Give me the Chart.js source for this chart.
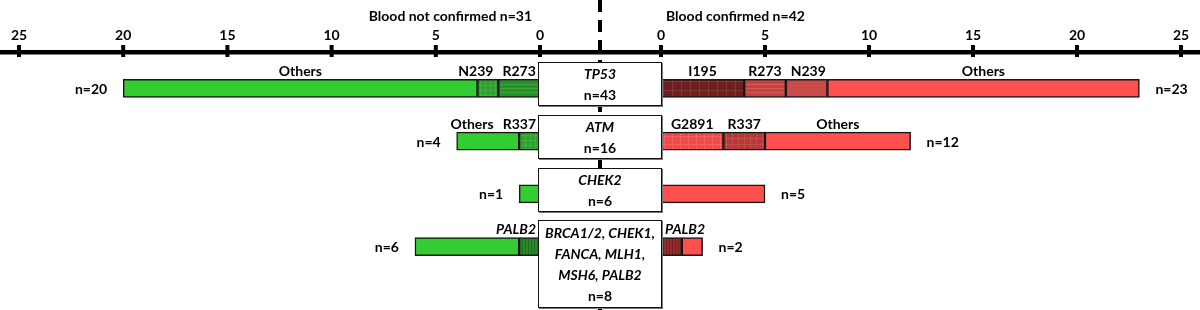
<!DOCTYPE html>
<html>
<head>
<meta charset="utf-8">
<script src="https://cdn.jsdelivr.net/npm/chart.js@4.4.1/dist/chart.umd.min.js"></script>
<style>
  html, body { margin: 0; padding: 0; background: #fff; }
  #wrap { position: relative; width: 1200px; height: 310px; overflow: hidden; font-family: Lato, sans-serif; }
  #wrap canvas { position: absolute; top: 0; }
  #leftChart { left: 0; }
  #rightChart { left: 600px; }
  #midline {
    position: absolute; left: 598px; top: 0; width: 4px; height: 310px;
    background: repeating-linear-gradient(to bottom, #000 0 12px, transparent 12px 20px);
  }
  .genebox {
    position: absolute; left: 538px; width: 124px; box-sizing: border-box;
    border: 1.5px solid #111; background: #fff; box-shadow: 1px 1px 0 #777;
    display: flex; flex-direction: column; justify-content: center; align-items: center;
    text-align: center; font-weight: 700; font-size: 14px; line-height: 21px; color: #000;
  }
</style>
</head>
<body>
<div id="wrap">
  <canvas id="leftChart" width="600" height="310"></canvas>
  <canvas id="rightChart" width="600" height="310"></canvas>
  <div id="midline"></div>
</div>
<script>
// rows, top to bottom
const rowGenes = ['TP53', 'ATM', 'CHEK2', 'BRCA1/2, CHEK1,\nFANCA, MLH1,\nMSH6, PALB2'];
const sideTitles = ['Blood not confirmed', 'Blood confirmed'];

// segments from 0 outwards ('' = no label)
const notConfirmedNames = [['R273', 'N239', 'Others'], ['R337', 'Others'], [''], ['PALB2', '']];
const notConfirmedCounts = [[2, 1, 17], [1, 3], [1], [1, 5]];
const confirmedNames = [['I195', 'R273', 'N239', 'Others'], ['G2891', 'R337', 'Others'], [''], ['PALB2', '']];
const confirmedCounts = [[4, 2, 2, 15], [3, 2, 7], [5], [1, 1]];

const axisTicks = [0, 5, 10, 15, 20, 25];

const italicLabels = ['PALB2'];
const FONT = 'bold 14px Lato';

function pattern(bg, fg, kind, size) {
  size = size || 6;
  const c = document.createElement('canvas');
  c.width = size; c.height = size;
  const g = c.getContext('2d');
  g.fillStyle = bg; g.fillRect(0, 0, size, size);
  g.fillStyle = fg;
  if (kind === 'h') g.fillRect(0, 0, size, 1);
  else if (kind === 'v') g.fillRect(0, 0, 1, size);
  else if (kind === 'grid') { g.fillRect(0, 0, size, 1); g.fillRect(0, 0, 1, size); }
  else if (kind === 'dots') { g.fillRect(0, 0, 1, 1); g.fillRect(size / 2, size / 2, 1, 1); }
  return g.createPattern(c, 'repeat');
}

// palette for the mutation segments, keyed by name
const greens = {
  base: '#33cc33',
  R273: pattern('#2b8f2b', '#3aa83a', 'h', 4),
  N239: pattern('#2f9f2f', '#3cb43c', 'grid', 5),
  R337: pattern('#2f9f2f', '#3cb43c', 'grid', 5),
  PALB2: pattern('#2a8a2a', '#1e6a1e', 'v', 3)
};
const reds = {
  base: '#ff5050',
  I195: pattern('#6c1f1f', '#8c3434', 'grid', 9),
  R273: pattern('#c44242', '#d65a5a', 'h', 4),
  N239: pattern('#c94747', '#dd6060', 'dots', 4),
  G2891: pattern('#f04b4b', '#f95f5f', 'grid', 8),
  R337: pattern('#b33838', '#c64c4c', 'grid', 6),
  PALB2: pattern('#962d2d', '#742020', 'v', 3)
};

const sum = arr => arr.reduce((a, b) => a + b, 0);

function buildDatasets(names, counts, palette) {
  const depth = Math.max(...counts.map(r => r.length));
  const sets = [];
  for (let k = 0; k < depth; k++) {
    sets.push({
      data: counts.map(r => (r[k] === undefined ? null : r[k])),
      names: names.map(r => r[k] || ''),
      backgroundColor: names.map(r => palette[r[k]] || palette.base),
      borderColor: '#151515',
      borderWidth: 1.5,
      borderSkipped: false,
      barThickness: 18
    });
  }
  return sets;
}

// axis, titles, segment labels and totals
const sideDecor = {
  id: 'sideDecor',
  afterDraw(chart, args, opts) {
    const { ctx, chartArea, scales: { x, y } } = chart;
    const side = opts.side;
    const zero = x.getPixelForValue(0);
    const axisY = chartArea.top - 10;
    ctx.save();
    ctx.fillStyle = '#000';
    ctx.fillRect(0, axisY - 2, chart.width, 4.5);
    x.ticks.forEach(t => {
      ctx.fillRect(x.getPixelForValue(t.value) - 2, axisY - 7, 4, 12);
    });
    ctx.font = FONT;
    ctx.textBaseline = 'middle';
    ctx.textAlign = 'center';
    x.ticks.forEach(t => ctx.fillText(String(t.value), x.getPixelForValue(t.value), axisY - 17));

    // side title
    const ds = chart.data.datasets;
    const grand = sum(ds.map(d => sum(d.data.map(v => v || 0))));
    ctx.textAlign = side < 0 ? 'right' : 'left';
    ctx.fillText(opts.title + ' n=' + grand, side < 0 ? zero - 8 : zero + 5, axisY - 36);

    // segment names, pushed away from the centre boxes and from each other
    ctx.textAlign = 'center';
    chart.data.labels.forEach((lab, i) => {
      let limit = side < 0 ? zero - 4 : zero + 4;
      ds.forEach((d, di) => {
        const name = d.names[i];
        if (d.data[i] == null || !name) return;
        const bar = chart.getDatasetMeta(di).data[i];
        ctx.font = (italicLabels.includes(name) ? 'italic ' : '') + FONT;
        const w = ctx.measureText(name).width;
        let cx = (bar.x + bar.base) / 2;
        if (side < 0) { cx = Math.min(cx, limit - w / 2); limit = cx - w / 2 - 9; }
        else { cx = Math.max(cx, limit + w / 2); limit = cx + w / 2 + 9; }
        ctx.fillText(name, cx, bar.y - 17);
      });
    });

    // row totals
    ctx.font = FONT;
    ctx.textAlign = side < 0 ? 'right' : 'left';
    chart.data.labels.forEach((lab, i) => {
      const total = sum(ds.map(d => d.data[i] || 0));
      const end = x.getPixelForValue(total);
      ctx.fillText('n=' + total, end + side * 16, y.getPixelForValue(i) + 1);
    });
    ctx.restore();
  }
};

function makeChart(id, names, counts, palette, side, title, pad) {
  return new Chart(document.getElementById(id), {
    type: 'bar',
    data: { labels: rowGenes, datasets: buildDatasets(names, counts, palette) },
    options: {
      indexAxis: 'y',
      responsive: false,
      animation: false,
      layout: { padding: pad },
      scales: {
        x: {
          display: false,
          stacked: true,
          reverse: side < 0,
          min: axisTicks[0],
          max: axisTicks[axisTicks.length - 1],
          afterBuildTicks: s => { s.ticks = axisTicks.map(v => ({ value: v })); }
        },
        y: { display: false, stacked: true }
      },
      plugins: {
        legend: { display: false },
        tooltip: { enabled: false },
        sideDecor: { side: side, title: title }
      }
    },
    plugins: [sideDecor]
  });
}

const leftChart = makeChart('leftChart', notConfirmedNames, notConfirmedCounts, greens, -1, sideTitles[0],
  { left: 19, right: 60, top: 62, bottom: 37 });
const rightChart = makeChart('rightChart', confirmedNames, confirmedCounts, reds, 1, sideTitles[1],
  { left: 61, right: 19, top: 62, bottom: 37 });

// gene boxes in the middle
const wrap = document.getElementById('wrap');
const yScale = leftChart.scales.y;
const band = yScale.getPixelForValue(1) - yScale.getPixelForValue(0);
rowGenes.forEach((gene, i) => {
  const lines = gene.split('\n');
  const total = sum(notConfirmedCounts[i]) + sum(confirmedCounts[i]);
  const box = document.createElement('div');
  box.className = 'genebox';
  box.style.top = (yScale.getPixelForValue(i) - band / 2) + 'px';
  box.style.height = ((lines.length + 1) * 22) + 'px';
  box.innerHTML = lines.map(l => '<div><i>' + l + '</i></div>').join('') + '<div>n=' + total + '</div>';
  wrap.appendChild(box);
});
</script>
</body>
</html>
